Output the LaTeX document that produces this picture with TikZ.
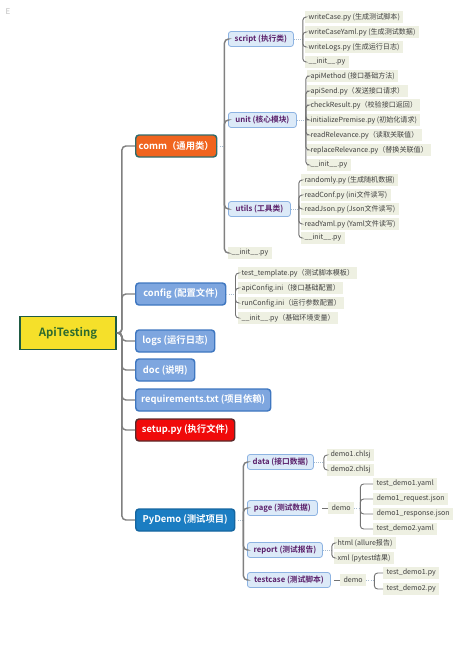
\documentclass[tikz,border=0pt]{standalone}
\usepackage{fontspec}
\setmainfont{Noto Sans CJK SC}[BoldFont={Noto Sans CJK SC Bold}]
\definecolor{rootF}{HTML}{F5E02A}
\definecolor{rootB}{HTML}{1F5B44}
\definecolor{rootT}{HTML}{2E6B2E}
\definecolor{commF}{HTML}{F0641E}
\definecolor{commB}{HTML}{2F6B6B}
\definecolor{cfgF}{HTML}{7EA6DF}
\definecolor{cfgB}{HTML}{3F77C0}
\definecolor{redF}{HTML}{F00A0A}
\definecolor{redB}{HTML}{5A2A2A}
\definecolor{pyF}{HTML}{1B7DC2}
\definecolor{pyB}{HTML}{1566A0}
\definecolor{lvF}{HTML}{DCEAF8}
\definecolor{lvB}{HTML}{8DB3E2}
\definecolor{lvT}{HTML}{5A1F6A}
\definecolor{leafF}{HTML}{EEF0E2}
\definecolor{leafT}{HTML}{404040}
\definecolor{lineC}{HTML}{808080}
\definecolor{stubC}{HTML}{A8BCD0}
\begin{document}
\begin{tikzpicture}[x=0.75pt,y=-0.75pt,
  root/.style={draw=rootB, line width=1.4pt, fill=rootF, text=rootT,
    font=\fontsize{8.5}{10}\selectfont\bfseries, minimum width=72pt,
    minimum height=24.75pt, inner sep=0pt},
  lone/.style={rounded corners=2.5pt, line width=1.1pt, text=white,
    font=\fontsize{7}{8}\selectfont\bfseries, minimum height=16.5pt,
    inner sep=0pt, anchor=west},
  cfg/.style={lone, fill=cfgF, draw=cfgB},
  ltwo/.style={rounded corners=2pt, fill=lvF, draw=lvB, line width=0.6pt,
    text=lvT, font=\fontsize{5.8}{7}\selectfont\bfseries,
    minimum height=11.25pt, inner sep=0pt, anchor=west},
  leaf/.style={fill=leafF, text=leafT, font=\fontsize{5.3}{6}\selectfont,
    minimum height=9pt, inner xsep=2.5pt, inner ysep=0pt, anchor=west},
  trunk/.style={draw=lineC, line width=1.1pt, rounded corners=3pt},
  br/.style={draw=lineC!90!black, line width=0.7pt, rounded corners=2.5pt},
  stub/.style={draw=stubC, line width=0.6pt, densely dotted}]
\useasboundingbox (0,0) rectangle (474,657);
\node[text=black!25, font=\fontsize{6}{7}\selectfont] (mark) at (8,12) {E};

% root and level 1
\node[root] (root) at (68,333) {ApiTesting};
\node[lone, fill=commF, draw=commB, minimum width=60.75pt] (comm) at (135,146) {comm（通用类）};
\node[cfg, minimum width=67.5pt] (config) at (135,294) {config (配置文件)};
\node[cfg, minimum width=59.25pt] (logs) at (135,341) {logs (运行日志)};
\node[cfg, minimum width=44.25pt] (doc) at (135,370) {doc (说明)};
\node[cfg, minimum width=101.25pt] (req) at (135,400) {requirements.txt (项目依赖)};
\node[lone, fill=redF, draw=redB, minimum width=74.25pt] (setup) at (135,430) {setup.py (执行文件)};
\node[lone, fill=pyF, draw=pyB, minimum width=74.25pt] (pydemo) at (135,520) {PyDemo (测试项目)};
\foreach \c in {comm,config,logs,doc,req,setup,pydemo}
  \draw[trunk] (root.east) -- ++(5,0) |- (\c.west);

% comm level 2
\node[ltwo, minimum width=48.75pt] (script) at (228,39) {script (执行类)};
\node[ltwo, minimum width=51pt] (unit) at (228,120) {unit (核心模块)};
\node[ltwo, minimum width=46.5pt] (utils) at (228,209) {utils (工具类)};
\node[leaf, minimum height=9pt] (cinit) at (228,253) {\_\_init\_\_.py};
\draw[stub] (comm.east) -- ++(7,0) coordinate (cj);
\foreach \c in {script,unit,utils,cinit}
  \draw[trunk] (cj) |- (\c.west);

% script leaves
\node[leaf] (s1) at (305,17) {writeCase.py (生成测试脚本)};
\node[leaf] (s2) at (305,32) {writeCaseYaml.py (生成测试数据)};
\node[leaf] (s3) at (305,47) {writeLogs.py (生成运行日志)};
\node[leaf] (s4) at (305,62) {\_\_init\_\_.py};
\draw[stub] (script.east) -- ++(9,0) coordinate (sj);
\foreach \c in {s1,s2,s3,s4}
  \draw[br] (sj) |- (\c.west);

% unit leaves
\node[leaf] (u1) at (307,76) {apiMethod (接口基础方法)};
\node[leaf] (u2) at (307,91) {apiSend.py（发送接口请求）};
\node[leaf] (u3) at (307,105) {checkResult.py（校验接口返回）};
\node[leaf] (u4) at (307,120) {initializePremise.py (初始化请求)};
\node[leaf] (u5) at (307,135) {readRelevance.py（读取关联值）};
\node[leaf] (u6) at (307,150) {replaceRelevance.py（替换关联值）};
\node[leaf] (u7) at (307,165) {\_\_init\_\_.py};
\draw[stub] (unit.east) -- ++(9,0) coordinate (uj);
\foreach \c in {u1,u2,u3,u4,u5,u6,u7}
  \draw[br] (uj) |- (\c.west);

% utils leaves
\node[leaf] (t1) at (301,180) {randomly.py (生成随机数据)};
\node[leaf] (t2) at (301,195) {readConf.py (ini文件读写)};
\node[leaf] (t3) at (301,209) {readJson.py (Json文件读写)};
\node[leaf] (t4) at (301,224) {readYaml.py (Yaml文件读写)};
\node[leaf] (t5) at (301,238) {\_\_init\_\_.py};
\draw[stub] (utils.east) -- ++(8,0) coordinate (tj);
\foreach \c in {t1,t2,t3,t4,t5}
  \draw[br] (tj) |- (\c.west);

% config leaves
\node[leaf] (c1) at (238,273) {test\_template.py（测试脚本模板）};
\node[leaf] (c2) at (238,288) {apiConfig.ini（接口基础配置）};
\node[leaf] (c3) at (238,303) {runConfig.ini（运行参数配置）};
\node[leaf] (c4) at (238,318) {\_\_init\_\_.py（基础环境变量）};
\draw[stub] (config.east) -- ++(9,0) coordinate (fj);
\foreach \c in {c1,c2,c3,c4}
  \draw[br] (fj) |- (\c.west);

% PyDemo level 2
\node[ltwo, minimum width=49.5pt] (data) at (247,462) {data (接口数据)};
\node[ltwo, minimum width=52.5pt] (page) at (247,508) {page (测试数据)};
\node[ltwo, minimum width=56.25pt] (report) at (247,550) {report (测试报告)};
\node[ltwo, minimum width=62.25pt] (testcase) at (247,580) {testcase (测试脚本)};
\draw[stub] (pydemo.east) -- ++(8,0) coordinate (pj);
\foreach \c in {data,page,report,testcase}
  \draw[trunk] (pj) |- (\c.west);

% data leaves
\node[leaf] (d1) at (327,455) {demo1.chlsj};
\node[leaf] (d2) at (327,470) {demo2.chlsj};
\draw[stub] (data.east) -- ++(10,0) coordinate (dj);
\foreach \c in {d1,d2}
  \draw[br] (dj) |- (\c.west);

% page -> demo
\node[leaf] (pdemo) at (328,508) {demo};
\draw[br] (page.east) ++(4,0) -- (pdemo.west);
\node[leaf] (p1) at (373,484) {test\_demo1.yaml};
\node[leaf] (p2) at (373,499) {demo1\_request.json};
\node[leaf] (p3) at (373,514) {demo1\_response.json};
\node[leaf] (p4) at (373,529) {test\_demo2.yaml};
\draw[stub] (pdemo.east) -- ++(6,0) coordinate (ddj);
\foreach \c in {p1,p2,p3,p4}
  \draw[br] (ddj) |- (\c.west);

% report leaves
\node[leaf] (r1) at (334,543) {html (allure报告)};
\node[leaf] (r2) at (334,558) {xml (pytest结果)};
\draw[stub] (report.east) -- ++(9,0) coordinate (rj);
\foreach \c in {r1,r2}
  \draw[br] (rj) |- (\c.west);

% testcase leaves
\node[leaf] (tdemo) at (340,580) {demo};
\draw[br] (testcase.east) ++(3,0) -- (tdemo.west);
\node[leaf] (k1) at (383,573) {test\_demo1.py};
\node[leaf] (k2) at (383,589) {test\_demo2.py};
\draw[stub] (tdemo.east) -- ++(8,0) coordinate (kj);
\foreach \c in {k1,k2}
  \draw[br] (kj) |- (\c.west);
\end{tikzpicture}
\end{document}
